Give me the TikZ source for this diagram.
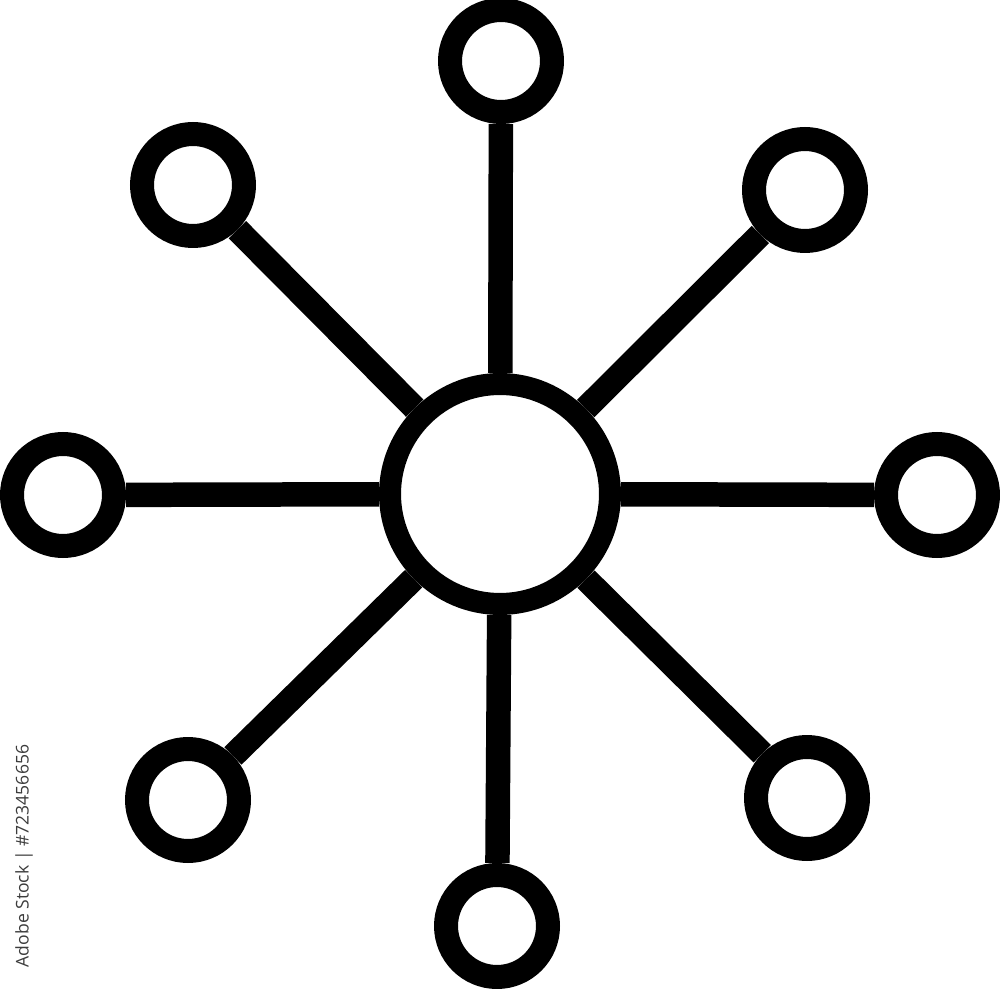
\documentclass[tikz,border=0pt]{standalone}
\usepackage{fontspec}
\setsansfont{Open Sans}
\usepackage{xcolor}
\usepackage{tikz}
\definecolor{ink}{HTML}{000000}
\definecolor{muted}{HTML}{3C3C3C}
\tikzset{
  spoke/.style={draw=ink, line width=0.49cm},
  hubnode/.style={circle, draw=ink, fill=white, line width=0.44cm, inner sep=0pt, minimum size=4.4cm},
  leafnode/.style={circle, draw=ink, fill=white, line width=0.48cm, inner sep=0pt, minimum size=2.04cm},
  lab/.style={text=muted, font=\sffamily\fontsize{10}{10}\selectfont, inner sep=0pt},
}
\begin{document}
\begin{tikzpicture}[x=0.02cm, y=0.02cm]
  \useasboundingbox (0,0) rectangle (1000,988);

  \node[hubnode] (hub) at (500,494) {};
  \node[leafnode] (top) at (501,927) {};
  \node[leafnode] (topright) at (805,798) {};
  \node[leafnode] (right) at (937,493) {};
  \node[leafnode] (bottomright) at (807,190) {};
  \node[leafnode] (bottom) at (497,62) {};
  \node[leafnode] (bottomleft) at (188,188) {};
  \node[leafnode] (left) at (63,493) {};
  \node[leafnode] (topleft) at (193,803) {};

  \draw[spoke] (hub) -- (top);
  \draw[spoke] (hub) -- (topright);
  \draw[spoke] (hub) -- (right);
  \draw[spoke] (hub) -- (bottomright);
  \draw[spoke] (hub) -- (bottom);
  \draw[spoke] (hub) -- (bottomleft);
  \draw[spoke] (hub) -- (left);
  \draw[spoke] (hub) -- (topleft);

  \node[lab, rotate=90] (stock) at (24,132) {Adobe Stock | \#723456656};
\end{tikzpicture}
\end{document}
